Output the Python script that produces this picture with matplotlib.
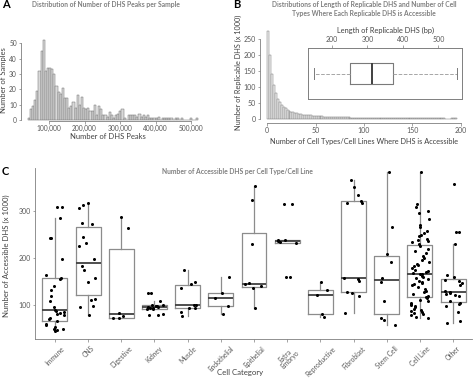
import numpy as np
import matplotlib
matplotlib.use("Agg")
import matplotlib.pyplot as plt

plt.rcParams["font.family"] = ["Lato", "DejaVu Sans"]

# ---- panel A: DHS peaks per sample (bin start, width, counts) ----
a_start = 40000
a_width = 6000
a_counts = [1, 7, 9, 13, 19, 32, 45, 52, 32, 34, 34, 33, 30, 22, 18, 17, 21, 14, 14, 8,
            9, 12, 8, 16, 10, 15, 8, 7, 8, 6, 6, 10, 3, 9, 7, 3, 3, 2, 5, 3,
            1, 3, 4, 6, 7, 1, 0, 3, 3, 3, 3, 2, 4, 2, 3, 2, 3, 1, 1, 1,
            1, 2, 0, 1, 1, 1, 1, 1, 0, 1, 1, 0, 1, 0, 0, 0, 1, 0, 0, 1]

# ---- panel B: number of cell types per replicable DHS (x1000) ----
b_width = 2
b_counts = [275, 200, 142, 107, 80, 63, 52, 44, 38, 33,
            29, 26, 23, 21, 19, 17.5, 16, 15, 14, 13,
            12, 11.5, 11, 10.5, 10, 9.5, 9, 8.6, 8.2, 7.8,
            7.5, 7.2, 6.9, 6.6, 6.3, 6.1, 5.9, 5.7, 5.5, 5.3,
            5.1, 4.9, 4.8, 4.6, 4.5, 4.4, 4.2, 4.1, 4.0, 3.9,
            3.8, 3.7, 3.6, 3.5, 3.4, 3.3, 3.2, 3.1, 3.0, 3.0,
            2.9, 2.8, 2.8, 2.7, 2.6, 2.6, 2.5, 2.5, 2.4, 2.4,
            2.3, 2.3, 2.2, 2.2, 2.1, 2.1, 2.0, 2.0, 2.0, 1.9,
            1.9, 1.9, 1.8, 1.8, 1.8, 1.7, 1.7, 1.7, 1.6, 1.6,
            1.6, 1.6, 1.5, 1.5, 1.5, 1.6, 2.5, 4.5]
# inset: length of replicable DHS (bp) box stats
len_stats = {"whislo": 149, "q1": 251, "med": 312, "q3": 371, "whishi": 552}

# ---- panel C: accessible DHS per cell type (x1000) ----
categories = ["Immune", "CNS", "Digestive", "Kidney", "Muscle", "Endothelial",
              "Epithelial", "Extra\nEmbryo", "Reproductive", "Fibroblast",
              "Stem Cell", "Cell Line", "Other"]
immune = [309, 309, 286, 242, 242, 198, 163, 157, 155, 140, 132, 119, 108, 95, 90,
          88, 86, 84, 80, 78, 73, 70, 66, 60, 57, 53, 50, 48, 46, 45]
cns = [318, 313, 307, 275, 272, 245, 231, 226, 197, 183, 174, 157, 150, 112, 111, 98, 96, 79]
digestive = [288, 264, 84, 77, 72, 72]
kidney = [126, 126, 108, 100, 99, 98, 97, 97, 96, 95, 94, 93, 92, 91, 80, 78, 78]
muscle = [174, 150, 144, 137, 101, 100, 94, 93, 86, 77]
endothelial = [160, 126, 114, 98, 81]
epithelial = [354, 324, 230, 146, 145, 140, 137, 94]
extra_embryo = [314, 314, 239, 238, 236, 235, 233, 160, 160]
reproductive = [149, 133, 121, 80, 75]
fibroblast = [367, 352, 335, 322, 318, 316, 158, 156, 152, 128, 125, 120, 84]
stem_cell = [384, 267, 208, 191, 157, 150, 108, 73, 68, 57]
cell_line = [382, 314, 309, 300, 296, 283, 270, 265, 258, 254, 250, 246, 240, 238, 236, 234,
             230, 226, 220, 215, 210, 205, 200, 196, 192, 188, 185, 182, 178, 175, 172, 170,
             168, 167, 165, 162, 160, 158, 155, 152, 150, 147, 145, 142, 138, 135, 130, 127,
             124, 120, 118, 114, 110, 108, 105, 102, 100, 97, 95, 92, 90, 88, 85, 82, 80,
             78, 75, 72]
other = [357, 255, 255, 229, 164, 159, 153, 152, 147, 142, 130, 128, 125, 124, 122,
         119, 108, 104, 102, 98, 86, 65, 61]
groups = [immune, cns, digestive, kidney, muscle, endothelial, epithelial, extra_embryo,
          reproductive, fibroblast, stem_cell, cell_line, other]

W, H = 474, 379
fig = plt.figure(figsize=(W / 100, H / 100), dpi=100)


def px_axes(x0, y0, x1, y1):
    return fig.add_axes([x0 / W, 1 - y1 / H, (x1 - x0) / W, (y1 - y0) / H])


def ftext(x, y, s, **kw):
    fig.text(x / W, 1 - y / H, s, **kw)


tick_col = "#595959"
lab_col = "#404040"
title_col = "#808080"
spine_col = "#7f7f7f"


def style_axis(ax, size=5):
    for s in ["top", "right"]:
        ax.spines[s].set_visible(False)
    for s in ["left", "bottom"]:
        ax.spines[s].set_color(spine_col)
        ax.spines[s].set_linewidth(0.6)
    ax.tick_params(labelsize=size, colors=spine_col, labelcolor=tick_col,
                   length=1.8, width=0.5, pad=1.2)


# ---------------- A ----------------
axA = px_axes(21, 36, 202, 121)
a_edges = a_start + a_width * np.arange(len(a_counts))
axA.bar(a_edges, a_counts, width=a_width, align="edge", color="#d9d9d9",
        edgecolor="#6e6e6e", linewidth=0.35)
axA.set_xlim(21000, 531000)
axA.set_ylim(-0.7, 54.8)
style_axis(axA, 4.8)
axA.spines["left"].set_bounds(0, 50)
axA.spines["bottom"].set_bounds(100000, 500000)
axA.set_yticks(range(0, 51, 10))
xt = [100000, 200000, 300000, 400000, 500000]
axA.set_xticks(xt)
axA.set_xticklabels([f"{v:,}" for v in xt])
axA.tick_params(axis="x", pad=0.8)
ftext(106, 5, "Distribution of Number of DHS Peaks per Sample", ha="center", va="center",
      fontsize=4.9, fontweight="bold", color=title_col)
ftext(4, 80, "Number of Samples", rotation=90, ha="center", va="center",
      fontsize=5.5, color=lab_col)
ftext(108, 136.5, "Number of DHS Peaks", ha="center", va="center", fontsize=5.5, color=lab_col)
ftext(2, 5, "A", ha="left", va="center", fontsize=8, fontweight="bold")

# ---------------- B ----------------
axB = px_axes(260, 28, 470, 123)
b_edges = b_width * np.arange(len(b_counts))
axB.bar(b_edges, b_counts, width=b_width, align="edge", color="#ededed",
        edgecolor="#7a7a7a", linewidth=0.35)
axB.set_xlim(-7.5, 209.5)
axB.set_ylim(-12.5, 285)
style_axis(axB)
axB.spines["left"].set_bounds(0, 250)
axB.spines["bottom"].set_bounds(0, 200)
axB.set_yticks(range(0, 251, 50))
axB.set_xticks(range(0, 201, 50))
ftext(364, 5, "Distributions of Length of Replicable DHS and Number of Cell",
      ha="center", va="center", fontsize=4.9, fontweight="bold", color=title_col)
ftext(364, 13.5, "Types Where Each Replicable DHS is Accessible",
      ha="center", va="center", fontsize=4.9, fontweight="bold", color=title_col)
ftext(238, 72, "Number of Replicable DHS (x 1000)", rotation=90, ha="center", va="center",
      fontsize=5.3, color=lab_col)
ftext(364, 141.5, "Number of Cell Types/Cell Lines Where DHS is Accessible",
      ha="center", va="center", fontsize=5.3, color=lab_col)
ftext(233, 5, "B", ha="left", va="center", fontsize=8, fontweight="bold")

# inset
axI = px_axes(308, 47.7, 462, 99.3)
axI.bxp([dict(len_stats, fliers=[])], positions=[1], widths=0.4,
        orientation="horizontal", showfliers=False,
        boxprops=dict(color="#7a7a7a", linewidth=0.8),
        whiskerprops=dict(color="#a6a6a6", linewidth=0.7, linestyle="--"),
        capprops=dict(color="#7a7a7a", linewidth=0.7),
        medianprops=dict(color="#404040", linewidth=1.4))
axI.set_xlim(132, 567)
axI.set_ylim(0.5, 1.5)
axI.set_yticks([])
axI.xaxis.tick_top()
axI.set_xticks([200, 300, 400, 500])
axI.tick_params(labelsize=5, colors=spine_col, labelcolor=tick_col, length=2,
                width=0.5, pad=1.5)
for s in axI.spines.values():
    s.set_color(spine_col)
    s.set_linewidth(0.7)
ftext(386, 30.5, "Length of Replicable DHS (bp)", ha="center", va="center",
      fontsize=5.3, color=lab_col)

# ---------------- C ----------------
axC = px_axes(35, 168, 472, 339)
pos = np.arange(len(categories))
axC.boxplot(groups, positions=pos, widths=0.75, showfliers=False, showcaps=False,
            boxprops=dict(color="#8c8c8c", linewidth=0.9),
            whiskerprops=dict(color="#8c8c8c", linewidth=0.9),
            medianprops=dict(color="#404040", linewidth=1.3))
rng = np.random.default_rng(7)
for i, vals in enumerate(groups):
    xs = i + rng.uniform(-0.28, 0.28, len(vals))
    axC.plot(xs, vals, "o", color="black", markersize=2.2, markeredgewidth=0, zorder=3)
axC.set_xlim(-0.6, 12.57)
axC.set_ylim(27.7, 391.5)
style_axis(axC)
axC.set_yticks([100, 200, 300])
axC.set_xticks(pos)
axC.set_xticklabels(categories, rotation=45, ha="center", va="top", fontsize=4.8,
                    linespacing=0.9)
axC.tick_params(axis="x", pad=2.5)
ftext(237, 172, "Number of Accessible DHS per Cell Type/Cell Line", ha="center",
      va="center", fontsize=4.9, fontweight="bold", color=title_col)
ftext(6, 256, "Number of Accessible DHS (x 1000)", rotation=90, ha="center", va="center",
      fontsize=5.6, color=lab_col)
ftext(240, 372, "Cell Category", ha="center", va="center", fontsize=5.6, color=lab_col)
ftext(2, 172, "C", ha="left", va="center", fontsize=8, fontweight="bold")

fig.savefig("out.png", dpi=100)
